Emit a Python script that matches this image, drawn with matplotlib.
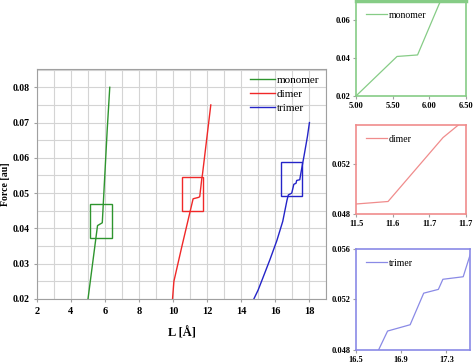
"""Force vs. extension curves for monomer, dimer and trimer, with zoomed insets."""
import matplotlib
matplotlib.use("Agg")
import matplotlib.pyplot as plt
from matplotlib.patches import Rectangle
from matplotlib.ticker import MultipleLocator

plt.rcParams["font.family"] = ["Liberation Serif", "DejaVu Serif"]

# --- data ------------------------------------------------------------------
mono_L = [5.00, 5.56, 5.84, 6.13, 6.28]
mono_F = [0.020, 0.0408, 0.0416, 0.0680, 0.080]

dimer_L = [9.97, 10.05, 10.50, 11.18, 11.50, 11.57, 11.69, 11.71, 11.73, 12.22]
dimer_F = [0.020, 0.025, 0.0345, 0.0484, 0.0488, 0.0490, 0.0541, 0.0547, 0.0553, 0.075]

trimer_L = [14.75, 15.00, 15.30, 15.70, 16.10, 16.45, 16.70, 16.78, 16.98,
            17.10, 17.23, 17.27, 17.45, 17.51, 17.70, 17.90, 18.02]
trimer_F = [0.020, 0.0225, 0.0262, 0.0312, 0.0365, 0.0420, 0.0480, 0.0495, 0.0500,
            0.0525, 0.0528, 0.0536, 0.0538, 0.0555, 0.0605, 0.0660, 0.0700]

series_names = ["monomer", "dimer", "trimer"]

# zoom boxes drawn on the main panel: (L0, L1, F0, F1)
box_mono = (5.10, 6.39, 0.0374, 0.0470)
box_dimer = (10.51, 11.76, 0.0449, 0.0545)
box_trimer = (16.37, 17.61, 0.0491, 0.0589)

main_colors = ["#2e952e", "#f02828", "#2424c8"]
inset_colors = ["#86cc86", "#f08c8c", "#8a8ae6"]

fig = plt.figure(figsize=(4.74, 3.64), dpi=100)

# --- main panel -------------------------------------------------------------
ax = fig.add_axes([0.078, 0.1786, 0.610, 0.632])
ax.plot(mono_L, mono_F, color=main_colors[0], lw=1.0, label=series_names[0])
ax.plot(dimer_L, dimer_F, color=main_colors[1], lw=1.0, label=series_names[1])
ax.plot(trimer_L, trimer_F, color=main_colors[2], lw=1.0, label=series_names[2])

for box, c in zip([box_mono, box_dimer, box_trimer], main_colors):
    ax.add_patch(Rectangle((box[0], box[2]), box[1] - box[0], box[3] - box[2],
                           fill=False, edgecolor=c, lw=1.0))

ax.set_xlim(2, 19)
ax.set_ylim(0.02, 0.0852)
ax.xaxis.set_major_locator(MultipleLocator(2))
ax.xaxis.set_minor_locator(MultipleLocator(1))
ax.yaxis.set_major_locator(MultipleLocator(0.01))
ax.yaxis.set_minor_locator(MultipleLocator(0.005))
ax.yaxis.set_major_formatter(lambda v, p: f"{v:.2f}")
ax.grid(True, which="both", color="#d4d4d4", lw=0.8)
ax.set_axisbelow(True)
for s in ax.spines.values():
    s.set_color("#a0a0a0")
ax.tick_params(which="both", length=2, color="#a0a0a0", labelsize=7.5)
ax.tick_params(axis="y", labelsize=7)
ax.tick_params(which="minor", length=0)
for lab in ax.get_xticklabels() + ax.get_yticklabels():
    lab.set_fontweight("bold")
ax.set_xlabel("L [Å]", fontsize=9, fontweight="bold", labelpad=8)
ax.set_ylabel("Force [au]", fontsize=7, fontweight="bold")
ax.yaxis.set_label_coords(-0.093, 0.5)
ax.legend(loc="upper right", frameon=False, fontsize=8, handlelength=2.2,
          handletextpad=0.2, labelspacing=0.35, borderaxespad=0.2)


# --- insets -----------------------------------------------------------------
def make_inset(rect, L, F, name, color, xlim, ylim, xticks, xlabels, yticks, yfmt):
    a = fig.add_axes(rect)
    a.plot(L, F, color=color, lw=0.9, label=name)
    a.set_xlim(*xlim)
    a.set_ylim(*ylim)
    a.set_xticks(xticks)
    a.set_xticklabels(xlabels)
    a.set_yticks(yticks)
    a.set_yticklabels([yfmt.format(v) for v in yticks])
    for s in a.spines.values():
        s.set_color(color)
        s.set_linewidth(1.2)
    a.tick_params(length=2, color="#a0a0a0", labelsize=6, pad=2)
    for lab in a.get_xticklabels() + a.get_yticklabels():
        lab.set_fontweight("bold")
    a.legend(loc="upper left", frameon=False, fontsize=7, handlelength=2.2,
             handletextpad=0.2, borderaxespad=0.6)
    return a


ins1 = make_inset([0.751, 0.7363, 0.232, 0.261], mono_L, mono_F, series_names[0], inset_colors[0],
                  (5.0, 6.5), (0.02, 0.07),
                  [5.0, 5.5, 6.0, 6.5], ["5.00", "5.50", "6.00", "6.50"],
                  [0.02, 0.04, 0.06], "{:.2f}")
ins1.spines["top"].set_linewidth(2.5)

make_inset([0.751, 0.412, 0.232, 0.2445], dimer_L, dimer_F, series_names[1], inset_colors[1],
           (11.50, 11.74), (0.048, 0.0551),
           [11.50, 11.58, 11.66, 11.74], ["11.5", "11.6", "11.7", "11.7"],
           [0.048, 0.052], "{:.3f}")

make_inset([0.751, 0.0385, 0.2405, 0.2775], trimer_L, trimer_F, series_names[2], inset_colors[2],
           (16.5, 17.51), (0.048, 0.056),
           [16.5, 16.9, 17.3], ["16.5", "16.9", "17.3"],
           [0.048, 0.052, 0.056], "{:.3f}")

fig.savefig("out.png", dpi=100)
plt.close(fig)
